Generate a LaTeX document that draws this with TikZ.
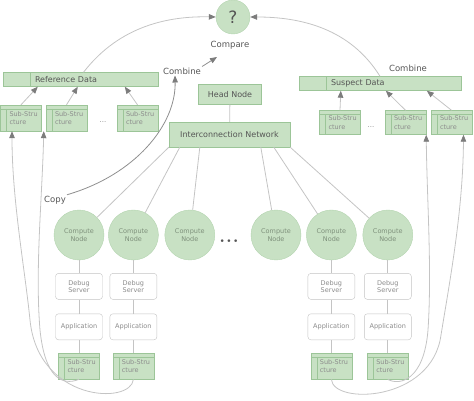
\documentclass[tikz,border=0pt]{standalone}
\usepackage{fontspec}
\setmainfont{DejaVu Sans}
\usetikzlibrary{positioning, arrows.meta}

\definecolor{boxgreen}{HTML}{C8E1C4}
\definecolor{edgegreen}{HTML}{9CC598}
\definecolor{ringgreen}{HTML}{B3D4AF}
\definecolor{labelgray}{HTML}{555555}
\definecolor{softgray}{HTML}{8C8C8C}
\definecolor{nodegray}{HTML}{7E907B}
\definecolor{wiregray}{HTML}{C4C4C4}
\definecolor{copygray}{HTML}{8E8E8E}
\definecolor{tipgray}{HTML}{7C7C7C}

\newcommand{\picfont}[2]{\fontsize{#1}{#2}\selectfont}

\begin{document}
\begin{tikzpicture}[x=1pt, y=-1pt,
    wire/.style={draw=wiregray, line width=0.8pt},
    flow/.style={wire, -{Triangle[length=7pt, width=5.5pt, color=tipgray]}},
    copyflow/.style={flow, draw=copygray},
    lbl/.style={text=labelgray, font=\picfont{8.5}{10}, inner sep=1pt},
    hostbox/.style={draw=edgegreen, fill=boxgreen, text=labelgray, font=\picfont{8}{9}, inner sep=0pt},
    databar/.style={draw=edgegreen, fill=boxgreen, minimum height=14pt, inner xsep=32pt, inner ysep=0pt,
        align=left, text=labelgray, font=\picfont{8}{9},
        path picture={\draw[edgegreen] ([xshift=27pt]path picture bounding box.north west) -- ([xshift=27pt]path picture bounding box.south west);}},
    subbox/.style={draw=edgegreen, fill=boxgreen, minimum height=26pt, inner xsep=9pt, inner ysep=0pt,
        text width=23pt, align=left, text=softgray, font=\picfont{6.5}{8.5},
        path picture={
            \draw[edgegreen] ([yshift=-4pt]path picture bounding box.north west) -- ([yshift=-4pt]path picture bounding box.north east);
            \draw[edgegreen] ([xshift=6pt, yshift=-4pt]path picture bounding box.north west) -- ([xshift=6pt]path picture bounding box.south west);}},
    compute/.style={circle, fill=boxgreen, draw=ringgreen, minimum size=50pt, inner sep=0pt,
        align=center, text=nodegray, font=\picfont{6.5}{7.5}},
    proc/.style={draw=wiregray, fill=white, rounded corners=3pt, minimum width=47pt, minimum height=26pt,
        inner sep=0pt, align=center, text=softgray, font=\picfont{6.5}{7.5}},
    dots/.style={text=softgray, font=\picfont{7}{8}, inner sep=0pt}
]
    \useasboundingbox (0,0) rectangle (474,401);

    % top: compare and the two data sets
    \node[circle, fill=boxgreen, draw=ringgreen, minimum size=34pt, inner sep=0pt, text=labelgray, font=\picfont{17}{17}] (cmp) at (233,17) {?};
    \node[lbl] (cmplbl) at (230,45) {Compare};
    \coordinate (cmpin) at (217,57);

    \node[databar, text width=91pt] (ref) at (80.5,79.5) {Reference Data};
    \node[databar, text width=98pt] (sus) at (380,83.5) {Suspect Data};
    \node[lbl] (comb1) at (182,71) {Combine};
    \node[lbl] (comb2) at (408,68) {Combine};

    \node[hostbox, minimum width=63pt, minimum height=20pt] (head) at (230,94.5) {Head Node};
    \node[hostbox, minimum width=121pt, minimum height=25pt] (net) at (229.5,134.5) {Interconnection Network};

    \node[subbox] (r1) at (21,118) {\mbox{Sub-Stru}\\cture};
    \node[subbox] (r2) at (66.5,118) {\mbox{Sub-Stru}\\cture};
    \node[dots] (rdots) at (103,122) {...};
    \node[subbox] (r3) at (137.5,118) {\mbox{Sub-Stru}\\cture};

    \node[subbox, minimum height=24pt] (s1) at (340,122.5) {\mbox{Sub-Stru}\\cture};
    \node[dots] (sdots) at (371,127) {...};
    \node[subbox, minimum height=24pt] (s2) at (405.5,122.5) {\mbox{Sub-Stru}\\cture};
    \node[subbox, minimum height=24pt] (s3) at (451.5,122.5) {\mbox{Sub-Stru}\\cture};

    \node[lbl] (copy) at (55,200) {Copy};

    % compute nodes
    \node[compute] (c1) at (79,235) {Compute\\Node};
    \node[compute, right=4pt of c1] (c2) {Compute\\Node};
    \node[compute, right=6pt of c2] (c3) {Compute\\Node};
    \node[dots, text=labelgray, font=\picfont{9}{9}] (cdots) at (229,242) {\textbullet\hspace{1.5pt}\textbullet\hspace{1.5pt}\textbullet};
    \node[compute] (c4) at (276,235) {Compute\\Node};
    \node[compute, right=5pt of c4] (c5) {Compute\\Node};
    \node[compute, right=6pt of c5] (c6) {Compute\\Node};

    \node[proc, below=13pt of c1] (d1) {Debug\\Server};
    \node[proc, below=13pt of c2] (d2) {Debug\\Server};
    \node[proc, below=13pt of c5] (d5) {Debug\\Server};
    \node[proc, below=13pt of c6] (d6) {Debug\\Server};

    \node[proc, below=14pt of d1] (a1) {Application};
    \node[proc, below=14pt of d2] (a2) {Application};
    \node[proc, below=14pt of d5] (a5) {Application};
    \node[proc, below=14pt of d6] (a6) {Application};

    \node[subbox, below=13pt of a1] (b1) {\mbox{Sub-Stru}\\cture};
    \node[subbox, below=13pt of a2] (b2) {\mbox{Sub-Stru}\\cture};
    \node[subbox, below=13pt of a5] (b5) {\mbox{Sub-Stru}\\cture};
    \node[subbox, below=13pt of a6] (b6) {\mbox{Sub-Stru}\\cture};

    % network
    \draw[wire] (head) -- (net);
    \draw[wire] (net.south west) -- (c1);
    \draw[wire] ([xshift=11pt]net.south west) -- (c2);
    \draw[wire] ([xshift=31pt]net.south west) -- (c3);
    \draw[wire] ([xshift=92pt]net.south west) -- (c4);
    \draw[wire] ([xshift=105pt]net.south west) -- (c5);
    \draw[wire] (net.south east) -- (c6);

    \draw[wire] (c1) -- (d1) -- (a1) -- (b1);
    \draw[wire] (c2) -- (d2) -- (a2) -- (b2);
    \draw[wire] (c5) -- (d5) -- (a5) -- (b5);
    \draw[wire] (c6) -- (d6) -- (a6) -- (b6);

    % combine
    \draw[flow] (r1.north) -- ([xshift=35pt]ref.south west);
    \draw[flow] (r2.north) -- ([xshift=75pt]ref.south west);
    \draw[flow] (r3.north) -- ([xshift=122pt]ref.south west);
    \draw[flow] (s1.north) -- ([xshift=42pt]sus.south west);
    \draw[flow] (s2.north) -- ([xshift=87pt]sus.south west);
    \draw[flow] (s3.north) -- ([xshift=128pt]sus.south west);

    % compare
    \draw[flow] ([xshift=3pt]ref.north) .. controls (120,25) and (170,16) .. (cmp.west);
    \draw[flow] (sus.north) .. controls (350,28) and (300,17) .. (cmp.east);
    \draw[copyflow] (comb1.north east) -- (cmpin);
    \draw[copyflow] (copy.north east) .. controls (135,175) and (176,125) .. ([xshift=-7pt]comb1.south);

    % copy back
    \draw[flow] (b2.south) .. controls (131,405) and (38,402) .. (30,320) .. controls (25,270) and (12,200) .. ([xshift=-9pt]r1.south);
    \draw[flow] (b1.south) .. controls (62,386) and (45,378) .. (40,330) .. controls (35,270) and (42,200) .. ([xshift=-2pt]r2.south west);
    \draw[flow] (b5.south) .. controls (333,405) and (432,402) .. (441,335) .. controls (450,280) and (463,210) .. ([xshift=12pt]s3.south);
    \draw[flow] (b6.south) .. controls (400,386) and (424,380) .. (428,330) .. controls (432,270) and (427,200) .. (s2.south east);
\end{tikzpicture}
\end{document}
